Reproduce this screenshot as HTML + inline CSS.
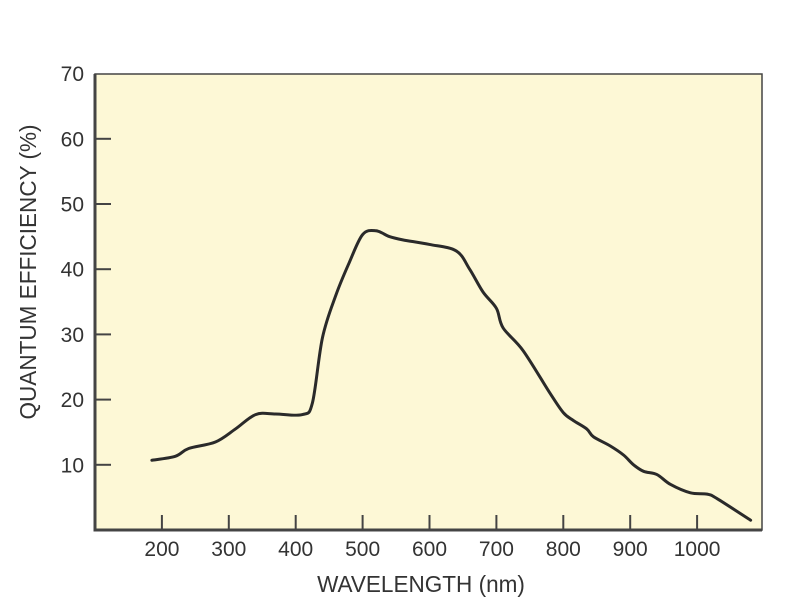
<!DOCTYPE html>
<html><head><meta charset="utf-8"><style>
body{margin:0;background:#fff}
svg text{font-family:"Liberation Sans",sans-serif;fill:#333}
</style></head><body>
<svg width="789" height="600">
<rect x="95" y="74" width="667" height="456" fill="#fdf8d6" stroke="#444" stroke-width="1.5"/>
<g id="axes"></g>
<path id="curve" fill="none" stroke="#2a2a2a" stroke-width="3" stroke-linejoin="round" stroke-linecap="round"/>
<text transform="translate(421,592) scale(0.98,1)" text-anchor="middle" font-size="23">WAVELENGTH (nm)</text>
<text transform="translate(36,272) rotate(-90) scale(0.98,1)" text-anchor="middle" font-size="23">QUANTUM EFFICIENCY (%)</text>
</svg>
<script>
const wavelengths=[185,220,240,280,310,340,370,410,425,440,460,480,500,520,540,560,600,640,660,680,700,710,740,780,800,815,835,845,870,890,905,920,940,960,990,1015,1030,1080];
const qe=[10.7,11.3,12.5,13.5,15.5,17.7,17.8,17.7,19.5,29.5,36,41,45.3,45.9,45,44.5,43.8,42.8,40,36.5,34,31,27.5,21,18,16.8,15.5,14.3,12.9,11.5,10,9,8.5,7,5.7,5.5,4.8,1.5];
const xTicks=[200,300,400,500,600,700,800,900,1000];
const yTicks=[10,20,30,40,50,60,70];
const X=v=>95+(v-100)*0.669, Y=v=>530-v*6.52;
const ns="http://www.w3.org/2000/svg", g=document.getElementById('axes');
function mk(t,a){const e=document.createElementNS(ns,t);for(const k in a)e.setAttribute(k,a[k]);g.appendChild(e);return e;}
const ax=mk('path',{d:'M95,74V530H762',stroke:'#444','stroke-width':3,fill:'none'});


xTicks.forEach(v=>{
 const l=mk('line',{x1:X(v),x2:X(v),y1:530,y2:515,stroke:'#444','stroke-width':2});
 
 
 const t=mk('text',{transform:`translate(${X(v)},556) scale(1,1)`,'text-anchor':'middle','font-size':21});t.textContent=v;
 
 
});
yTicks.forEach(v=>{
 if(v<70){
 const l=mk('line',{x1:95,x2:111,y1:Y(v),y2:Y(v),stroke:'#444','stroke-width':2});
 
 
 }
 const t=mk('text',{transform:`translate(84,${Y(v)+7.5}) scale(1,1)`,'text-anchor':'end','font-size':21});t.textContent=v;
 
 
});
const p=wavelengths.map((w,i)=>[X(w),Y(qe[i])]);
let d='M'+p[0];
for(let i=0;i<p.length-1;i++){
 const p0=p[Math.max(i-1,0)],p1=p[i],p2=p[i+1],p3=p[Math.min(i+2,p.length-1)];
 const c1=[p1[0]+(p2[0]-p0[0])/6,p1[1]+(p2[1]-p0[1])/6],c2=[p2[0]-(p3[0]-p1[0])/6,p2[1]-(p3[1]-p1[1])/6];
 d+=' C'+c1+' '+c2+' '+p2;
}
document.getElementById('curve').setAttribute('d',d);
</script>
</body></html>
